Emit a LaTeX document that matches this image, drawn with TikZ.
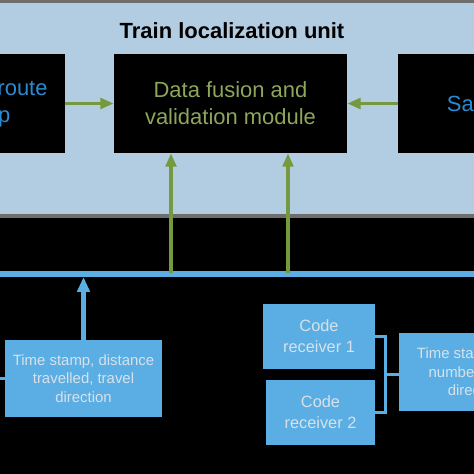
\documentclass[tikz,border=0pt]{standalone}
\usepackage{fontspec}
\setmainfont{Liberation Sans}
\usetikzlibrary{arrows.meta, positioning, calc}
\definecolor{panelblue}{HTML}{B2CDE2}
\definecolor{rimgray}{HTML}{6E6E6E}
\definecolor{linkgreen}{HTML}{74993F}
\definecolor{textgreen}{HTML}{8DA65A}
\definecolor{labelblue}{HTML}{2B8BD2}
\definecolor{busblue}{HTML}{5AAEE4}
\definecolor{notegray}{HTML}{D8E1EA}
\tikzset{
  unitbox/.style={rectangle,fill=black,draw=none,minimum width=#1,minimum height=1.98cm,
    inner sep=0pt,align=center,font=\fontsize{12.5}{15.3}\selectfont},
  infobox/.style 2 args={rectangle,fill=busblue,draw=none,minimum width=#1,minimum height=#2,
    inner sep=0pt,align=center,text=notegray,font=\fontsize{8.5}{10.5}\selectfont},
  garrow/.style={-{Triangle[length=7.5pt,width=6pt]},line width=2pt,linkgreen},
  barrow/.style={-{Triangle[length=8.5pt,width=7pt]},line width=2.8pt,busblue},
  bline/.style={line width=1.6pt,busblue},
}

\begin{document}
\begin{tikzpicture}[x=0.02cm,y=-0.02cm]
  \useasboundingbox (0,0) rectangle (474,474);
  \clip (0,0) rectangle (474,474);
  \fill[black] (0,0) rectangle (474,474);
  \fill[rimgray] (0,0) rectangle (474,218);
  \fill[panelblue] (0,3) rectangle (474,214);
  \node[font=\fontsize{12.5}{15}\selectfont\bfseries] (title) at (232,31) {Train localization unit};

  % localization unit
  \node[unitbox=4.66cm,text=textgreen] (dfm) at (230.5,103.5) {Data fusion and\\validation module};
  \node[unitbox=3.04cm,text=labelblue] (map) at (-11,103.5) {Digital route\\map};
  \node[unitbox=3.52cm,text=labelblue] (sat) at (486,103.5) {Satellite};
  \draw[garrow] (map) -- (dfm);
  \draw[garrow] (sat) -- (dfm);

  % bus
  \coordinate (busL) at (-10,274);
  \coordinate (busR) at (484,274);
  \draw[line width=3.4pt,busblue] (busL) -- (busR);
  \coordinate (tap1) at (171,273);
  \coordinate (tap2) at (288,273);
  \draw[garrow] (tap1) -- (tap1 |- dfm.south);
  \draw[garrow] (tap2) -- (tap2 |- dfm.south);

  % sensors
  \node[infobox={3.14cm}{1.54cm}] (odo) at (83.5,378.5) {Time stamp, distance\\travelled, travel\\direction};
  \draw[barrow,shorten >=1.7pt] (odo.north) -- (odo.north |- busL);
  \draw[bline] (odo.west) -- ++(-20,0);

  \node[infobox={2.24cm}{1.3cm},font=\fontsize{9.3}{11.9}\selectfont] (rx1) at (319,336.5) {Code\\receiver 1};
  \node[infobox={2.18cm}{1.3cm},font=\fontsize{9.3}{11.9}\selectfont] (rx2) at (320.5,412.5) {Code\\receiver 2};
  \node[infobox={3.08cm}{1.56cm}] (tsc) at (476,372) {Time stamp, code\\number, travel\\direction};
  \coordinate (jn) at ($(rx1.east)!0.5!(rx2.east)+(10,0)$);
  \draw[bline] (rx1.east) -| (jn) |- (rx2.east);
  \draw[bline] (jn) -- (jn -| tsc.west);
\end{tikzpicture}
\end{document}
